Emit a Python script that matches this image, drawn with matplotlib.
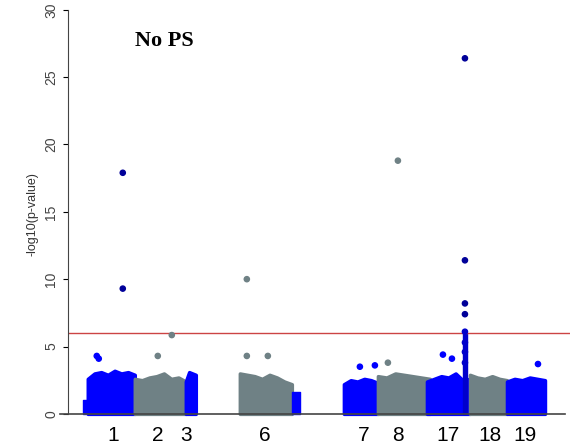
import numpy as np
import matplotlib.pyplot as plt

plt.rcParams['font.family'] = ['Liberation Sans', 'DejaVu Sans']

# chromosome spans (position units) and colours
chroms = ["1", "2", "3", "6", "7", "8", "17", "18", "19"]
starts = [88, 135, 186, 240, 344, 378, 427, 470, 507]
ends = [135, 186, 196, 292, 378, 430, 470, 507, 545]
colors = ["#0000ff", "#6f8185", "#0000ff", "#6f8185", "#0000ff", "#6f8185", "#0000ff", "#6f8185", "#0000ff"]
label_pos = [113, 158, 186, 265, 364, 398, 448, 490, 525]

# upper envelope of the dense point cloud, read at a few spots per chromosome
env = [
    [2.6, 3.0, 3.1, 2.9, 3.2, 3.0, 3.1, 2.9],
    [2.6, 2.5, 2.7, 2.8, 3.0, 2.6, 2.7, 2.4],
    [2.4, 3.1, 3.0, 2.9],
    [3.0, 2.9, 2.8, 2.6, 2.9, 2.7, 2.4, 2.2],
    [2.2, 2.5, 2.4, 2.6, 2.5, 2.3],
    [2.8, 2.7, 3.0, 2.9, 2.8, 2.7, 2.6],
    [2.4, 2.6, 2.8, 2.7, 3.0, 2.5, 2.6],
    [2.9, 2.7, 2.6, 2.8, 2.6, 2.5],
    [2.4, 2.6, 2.5, 2.7, 2.6, 2.5],
]
# extra low blue strips
strip_x = [[83, 88], [292, 300]]
strip_h = [1.0, 1.6]

# individual high points
pt_x = [123, 123, 97, 99, 172, 158, 247, 247, 268, 398,
        465, 465, 465, 465, 465, 465, 465, 465, 443, 452, 538, 360, 375, 388]
pt_y = [17.9, 9.3, 4.3, 4.1, 5.85, 4.3, 10.0, 4.3, 4.3, 18.8,
        26.4, 11.4, 8.2, 7.4, 6.1, 5.3, 4.6, 3.8, 4.4, 4.1, 3.7, 3.5, 3.6, 3.8]
pt_c = ["#000099", "#000099", "#0000ff", "#0000ff", "#6f8185", "#6f8185", "#6f8185", "#6f8185", "#6f8185", "#6f8185",
        "#000099", "#000099", "#000099", "#000099", "#0000cc", "#0000cc", "#0000cc", "#0000cc", "#0000ff", "#0000ff",
        "#0000ff", "#0000ff", "#0000ff", "#6f8185"]

fig = plt.figure(figsize=(5.84, 4.46), dpi=100)
ax = fig.add_axes([0.116, 0.063, 0.86, 0.915])

for s, e, c, h in zip(starts, ends, colors, env):
    xs = np.linspace(s, e, len(h))
    ax.fill_between(xs, 0, h, color=c, linewidth=2.5, edgecolor=c)
for (s, e), h in zip(strip_x, strip_h):
    ax.fill_between([s, e], 0, [h, h], color="#0000ff", linewidth=1)
# column of points above chr17 peak
ax.fill_between([463, 467], 0, [6.0, 6.0], color="#0000cc")
ax.scatter(pt_x, pt_y, s=14, c=pt_c, zorder=3)

ax.axhline(6, color="#cc4444", linewidth=1)
ax.plot([60, 565], [0, 0], color="#444444", linewidth=1.2, clip_on=False)

ax.set_xlim(68, 570)
ax.set_ylim(-0.3, 30)
ax.spines[["top", "right", "bottom"]].set_visible(False)
ax.spines["left"].set_bounds(0, 30)
ax.spines["left"].set_color("#444444")
ax.set_yticks(range(0, 31, 5))
ax.set_yticklabels([str(v) for v in range(0, 31, 5)], rotation=90, va="center", fontsize=10, color="#444444")
ax.set_xticks(label_pos)
ax.set_xticklabels(chroms, fontsize=15)
ax.tick_params(axis="x", length=0, pad=6)
ax.set_ylabel("-log10(p-value)", fontsize=9, color="#333333")
ax.text(165, 27.3, "No PS", fontsize=16, fontweight="bold", family="Liberation Serif", ha="center")

fig.savefig("out.png")
